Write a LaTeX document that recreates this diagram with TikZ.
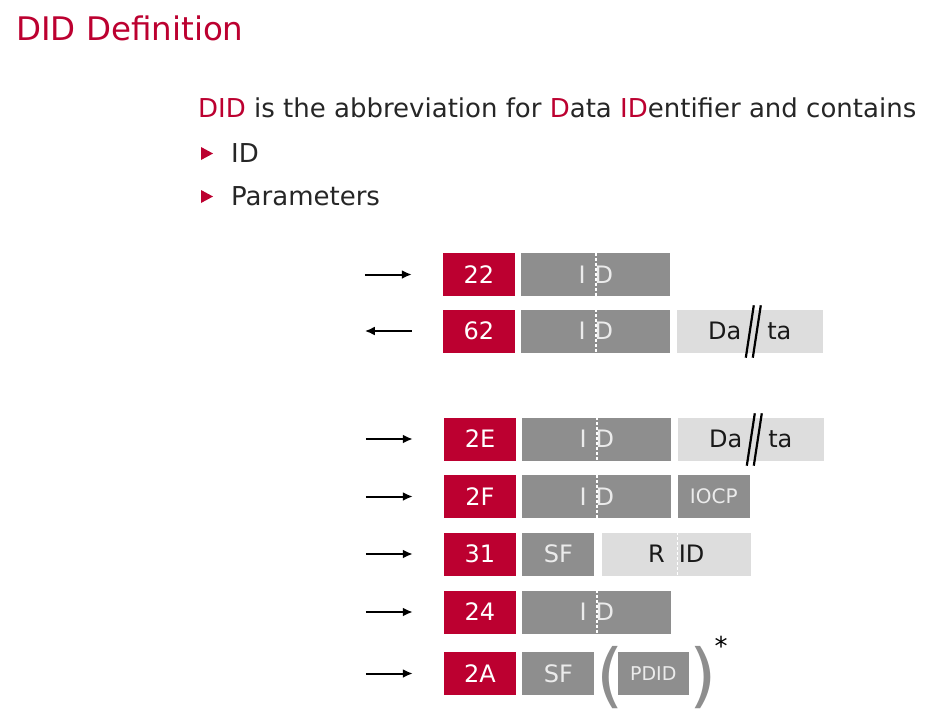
\documentclass[tikz,border=0pt]{standalone}
\usepackage{fontspec}
\setmainfont{DejaVu Sans}
\usetikzlibrary{positioning,arrows.meta}

\definecolor{didred}{RGB}{188,0,48}
\definecolor{idgray}{RGB}{142,142,142}
\definecolor{datagray}{RGB}{221,221,221}

\begin{document}
\begin{tikzpicture}[x=1pt,y=-1pt,
node distance=6pt,
titletext/.style={text=didred, inner sep=0pt, font=\fontsize{32.5}{32.5}\selectfont},
bodytext/.style={text=black!85, inner sep=0pt, font=\fontsize{26}{26}\selectfont},
sidnode/.style={rectangle, fill=didred, text=white, minimum width=72pt, minimum height=43pt, inner sep=0pt, font=\fontsize{24}{24}\selectfont},
idnode/.style={rectangle, fill=idgray, text=white!92!black, minimum width=149pt, minimum height=43pt, inner sep=0pt, font=\fontsize{24}{24}\selectfont},
datanode/.style={rectangle, fill=datagray, text=black!90, minimum width=146pt, minimum height=43pt, inner sep=0pt, font=\fontsize{24}{24}\selectfont},
sfnode/.style={idnode, minimum width=72pt},
smallnode/.style={idnode, minimum width=72pt, font=\fontsize{20}{20}\selectfont},
parnode/.style={text=idgray, inner sep=0pt, font=\fontsize{70}{70}\selectfont},
divider/.style={white, line width=1.2pt, dash pattern=on 3pt off 2pt},
slash/.style={black, line width=2.2pt},
reqarrow/.style={black, line width=2pt, -{Latex[length=10pt,width=9pt]}},
]
\useasboundingbox[fill=white] (0,0) rectangle (946,718);

%Text
\node[titletext, anchor=base west](title) at (16,40) {DID Definition};
\node[bodytext, anchor=base west](intro) at (198,117) {{\color{didred}DID} is the abbreviation for {\color{didred}D}ata {\color{didred}ID}entifier and contains};
\node[bodytext, anchor=base west](item1) at (231,162) {ID};
\node[bodytext, anchor=base west](item2) at (231,205) {Parameters};
\fill[didred] ([xshift=-30pt,yshift=15pt]item1.base west) -- ([xshift=-18pt,yshift=8.5pt]item1.base west) -- ([xshift=-30pt,yshift=2pt]item1.base west) -- cycle;
\fill[didred] ([xshift=-30pt,yshift=15pt]item2.base west) -- ([xshift=-18pt,yshift=8.5pt]item2.base west) -- ([xshift=-30pt,yshift=2pt]item2.base west) -- cycle;

%Nodes
\node[sidnode](s22) at (479,274.5) {22};
\node[idnode](id22)[right=of s22] {I\hspace{9pt}D};

\node[sidnode](s62) at (479,331) {62};
\node[idnode](id62)[right=of s62] {I\hspace{9pt}D};
\node[datanode](data62)[right=of id62] {Da\hspace{26pt}ta};

\node[sidnode](s2E) at (480,439) {2E};
\node[idnode](id2E)[right=of s2E] {I\hspace{9pt}D};
\node[datanode](data2E)[right=of id2E] {Da\hspace{26pt}ta};

\node[sidnode](s2F) at (480,496.5) {2F};
\node[idnode](id2F)[right=of s2F] {I\hspace{9pt}D};
\node[smallnode](iocp2F)[right=of id2F] {IOCP};

\node[sidnode](s31) at (480,554) {31};
\node[sfnode](sf31)[right=of s31] {SF};
\node[datanode, minimum width=149pt](rid31)[right=7pt of sf31] {R\hspace{14pt}ID};

\node[sidnode](s24) at (480,612) {24};
\node[idnode](id24)[right=of s24] {I\hspace{9pt}D};

\node[sidnode](s2A) at (480,673.5) {2A};
\node[sfnode](sf2A)[right=of s2A] {SF};
\node[smallnode, minimum width=71pt, font=\fontsize{19}{19}\selectfont](pdid2A)[right=23pt of sf2A] {PDID};
\node[parnode](lpar)[left=-6pt of pdid2A, yshift=-4pt] {(};
\node[parnode](rpar)[right=0pt of pdid2A, yshift=-4pt] {)};
\node[inner sep=0pt, font=\fontsize{26}{26}\selectfont](star) at (721,646) {*};

%Dividers and breaks
\foreach \n in {id22,id62,id2E,id2F,id24}
  \draw[divider] (\n.north) -- (\n.south);
\draw[divider] ([xshift=1.5pt]rid31.north) -- ([xshift=1.5pt]rid31.south);
\foreach \n in {data62,data2E}{
  \draw[slash] ([xshift=-4pt,yshift=-5pt]\n.south) -- ([xshift=4pt,yshift=4pt]\n.north);
  \draw[slash] ([xshift=3pt,yshift=-5pt]\n.south) -- ([xshift=11pt,yshift=4pt]\n.north);
}

%Arrows
\draw[reqarrow] ([xshift=-78pt]s22.west) -- ([xshift=-31pt]s22.west);
\draw[reqarrow] ([xshift=-31pt]s62.west) -- ([xshift=-78pt]s62.west);
\foreach \n in {s2E,s2F,s31,s24,s2A}
  \draw[reqarrow] ([xshift=-78pt]\n.west) -- ([xshift=-31pt]\n.west);
\end{tikzpicture}
\end{document}
